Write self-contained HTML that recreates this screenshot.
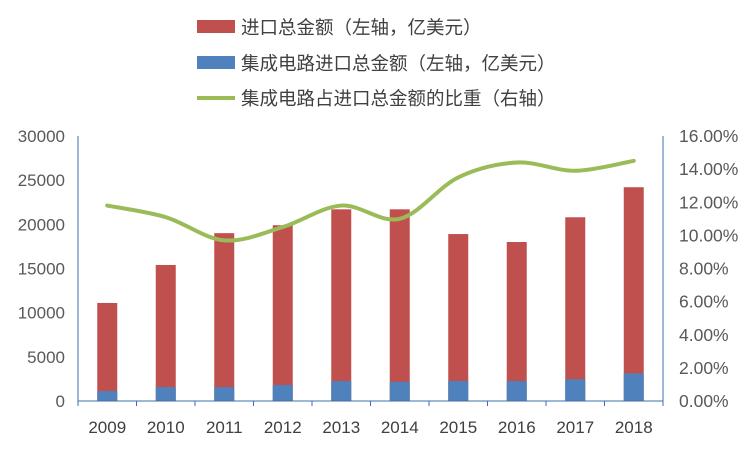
<!DOCTYPE html>
<html><head><meta charset="utf-8"><style>
body{margin:0;background:#fff;}
svg text{font-family:"Liberation Sans","Noto Sans CJK SC",sans-serif;}
</style></head><body>
<svg id="c" width="750" height="450" xmlns="http://www.w3.org/2000/svg">
<g>
<rect x="197" y="20" width="38" height="13" fill="#C0504D"/>
<text x="241" y="34" font-size="18.5" fill="#404040">进口总金额（左轴，亿美元）</text>
<rect x="197" y="56" width="38" height="13" fill="#4F81BD"/>
<text x="241" y="70" font-size="18.5" fill="#404040">集成电路进口总金额（左轴，亿美元）</text>
<line x1="197" y1="98" x2="235" y2="98" stroke="#9BBB59" stroke-width="4"/>
<text x="241" y="105" font-size="18.5" fill="#404040">集成电路占进口总金额的比重（右轴）</text>
</g>
<g id="plot"></g>
</svg>
<script>
const categories=["2009","2010","2011","2012","2013","2014","2015","2016","2017","2018"];
const totalImports=[11100,15400,19000,19900,21700,21700,18900,18000,20800,24200];
const icImports=[1130,1570,1570,1810,2260,2180,2270,2260,2460,3120];
const icShare=[11.8,11.1,9.7,10.5,11.8,11.0,13.5,14.4,13.9,14.5];
const leftTicks=[0,5000,10000,15000,20000,25000,30000];
const rightTicks=[0,2,4,6,8,10,12,14,16];

const NS="http://www.w3.org/2000/svg";
const g=document.getElementById('plot');
const X0=78,X1=663,Y0=401,Y1=136;
const bw=(X1-X0)/categories.length;
const yL=v=>Y0-(v/30000)*(Y0-Y1);
const yR=v=>Y0-(v/16)*(Y0-Y1);
const xc=i=>X0+bw*(i+0.5);
function el(t,a){const e=document.createElementNS(NS,t);for(const k in a)e.setAttribute(k,a[k]);g.appendChild(e);return e;}
const AX="#3F6FA8";
leftTicks.forEach(v=>{const t=el('text',{x:65,y:yL(v)+6,'font-size':17,fill:'#595959','text-anchor':'end'});t.textContent=v;

});
rightTicks.forEach(v=>{const t=el('text',{x:679,y:yR(v)+6,'font-size':17.5,fill:'#595959'});t.textContent=v.toFixed(2)+'%';

});
categories.forEach((c,i)=>{
const r=el('rect',{x:xc(i)-10,y:yL(totalImports[i]),width:20,height:Y0-yL(totalImports[i]),fill:'#C0504D'});


const b=el('rect',{x:xc(i)-10,y:yL(icImports[i]),width:20,height:Y0-yL(icImports[i]),fill:'#4F81BD'});


const t=el('text',{x:xc(i),y:433,'font-size':17,fill:'#404040','text-anchor':'middle'});t.textContent=c;


});
for(let i=0;i<=categories.length;i++){const tk=el('line',{x1:X0+bw*i,y1:Y0,x2:X0+bw*i,y2:Y0+5,stroke:AX,'stroke-width':1});

}
const a1=el('line',{x1:X0,y1:Y1,x2:X0,y2:Y0,stroke:AX});
const a2=el('line',{x1:X1,y1:Y1,x2:X1,y2:Y0,stroke:AX});
const a3=el('line',{x1:X0,y1:Y0,x2:X1,y2:Y0,stroke:AX});
const pts=icShare.map((v,i)=>[xc(i),yR(v)]);
let d='M'+pts[0][0]+','+pts[0][1];
for(let i=0;i<pts.length-1;i++){const p0=pts[Math.max(0,i-1)],p1=pts[i],p2=pts[i+1],p3=pts[Math.min(pts.length-1,i+2)];const k=1/6;
d+=` C${p1[0]+(p2[0]-p0[0])*k},${p1[1]+(p2[1]-p0[1])*k} ${p2[0]-(p3[0]-p1[0])*k},${p2[1]-(p3[1]-p1[1])*k} ${p2[0]},${p2[1]}`;}
const ln=el('path',{d:d,fill:'none',stroke:'#9BBB59','stroke-width':4,'stroke-linecap':'round'});


</script>
</body></html>
